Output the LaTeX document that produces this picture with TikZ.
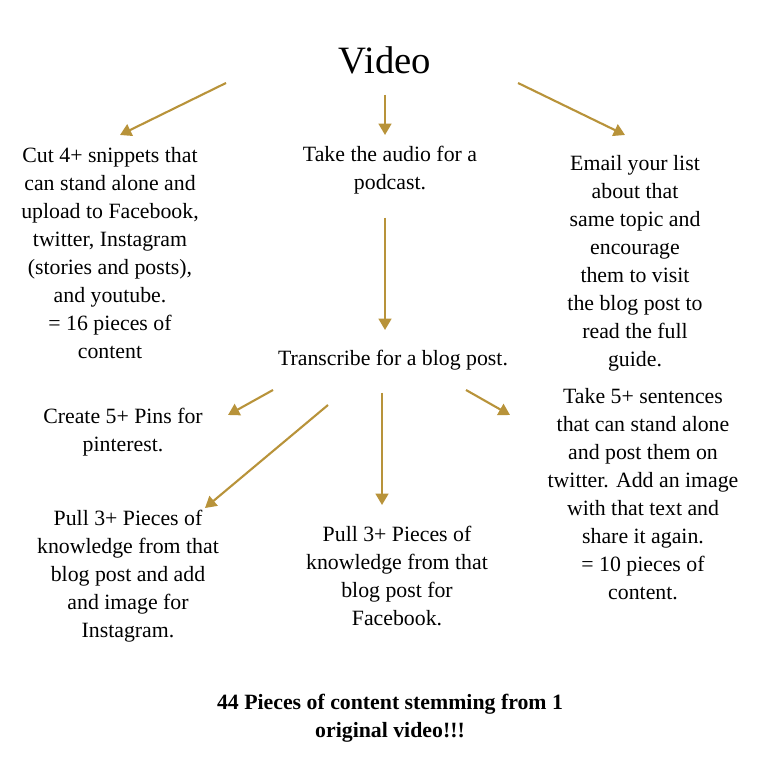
\documentclass[tikz,border=0pt]{standalone}
\usepackage{fontspec}
\setmainfont{Liberation Serif}
\usetikzlibrary{positioning,arrows.meta}
\definecolor{gold}{HTML}{B8933A}
\tikzset{
  txt/.style={align=center,inner sep=0pt,font=\fontsize{6.2pt}{7.95pt}\selectfont},
  goldarrow/.style={draw=gold,line width=0.6pt,-{Triangle[length=3.2pt,width=3.6pt]},fill=gold}
}
\begin{document}
\begin{tikzpicture}[x=0.01cm,y=-0.01cm]
\useasboundingbox (0,0) rectangle (768,768);
\node[inner sep=0pt,font=\fontsize{11pt}{13pt}\selectfont] (video) at (385,60) {Video};
\node[txt] (snip) at (110,253) {Cut 4+ snippets that\\can stand alone and\\upload to Facebook,\\twitter, Instagram\\(stories and posts),\\and youtube.\\= 16 pieces of\\content};
\node[txt] (audio) at (390,170) {Take the audio for a\\podcast.};
\node[txt] (email) at (635,263) {Email your list\\about that\\same topic and\\encourage\\them to visit\\the blog post to\\read the full\\guide.};
\node[txt] (blog) at (393,360) {Transcribe for a blog post.};
\node[txt] (pins) at (123,432) {Create 5+ Pins for\\pinterest.};
\node[txt] (insta) at (128,576) {Pull 3+ Pieces of\\knowledge from that\\blog post and add\\and image for\\Instagram.};
\node[txt] (fb) at (397,576) {Pull 3+ Pieces of\\knowledge from that\\blog post for\\Facebook.};
\node[txt] (tw) at (643,494) {Take 5+ sentences\\that can stand alone\\and post them on\\twitter. Add an image\\with that text and\\share it again.\\= 10 pieces of\\content.};
\node[txt,font=\fontsize{6.2pt}{7.95pt}\selectfont\bfseries] (total) at (390,718) {44 Pieces of content stemming from 1\\original video!!!};
% arrow ends
\coordinate (a1) at (226,83);  \coordinate (b1) at (120,135);
\coordinate (a2) at (385,95);  \coordinate (b2) at (385,135);
\coordinate (a3) at (518,83);  \coordinate (b3) at (625,135);
\coordinate (a4) at (385,218); \coordinate (b4) at (385,330);
\coordinate (a5) at (273,390); \coordinate (b5) at (228,415);
\coordinate (a6) at (328,405); \coordinate (b6) at (205,508);
\coordinate (a7) at (382,393); \coordinate (b7) at (382,505);
\coordinate (a8) at (466,390); \coordinate (b8) at (510,415);
\foreach \i in {1,...,8}
  \draw[goldarrow] (a\i) -- (b\i);
\end{tikzpicture}
\end{document}
